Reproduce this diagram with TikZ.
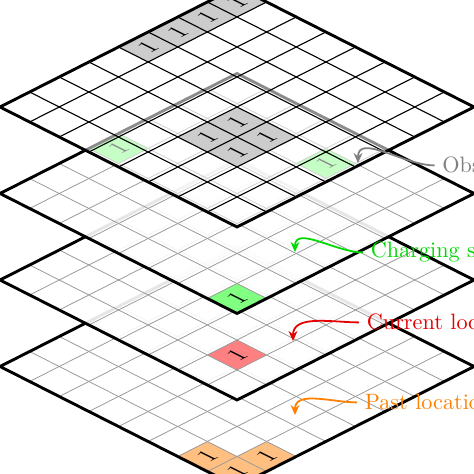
\documentclass[tikz,border=0pt]{standalone}
\usetikzlibrary{arrows.meta}
\begin{document}
\begin{tikzpicture}[x=0.45pt,y=0.45pt,
  onecell/.style={yslant=0.5,xslant=-1,inner sep=0pt},
  thingrid/.style={gray!80,line width=0.35pt},
  topgrid/.style={black,line width=0.5pt},
  border/.style={black,line width=1.3pt,line join=miter},
  layerframe/.style={shift={(237,#1)},x={(13.33125pt,6.75pt)},y={(-13.33125pt,6.75pt)}},
  lbl/.style={anchor=base west,font=\normalsize},
  pointer/.style={line width=0.8pt,-{Stealth[length=4.5pt,width=4pt]}}
]
\useasboundingbox (0,0) rectangle (474,474);
\clip (0,0) rectangle (474,474);
\fill[white] (0,0) rectangle (474,474);

% ---- layer 4: past locations
\begin{scope}[layerframe=-12.5]
  \fill[white,fill opacity=0.9] (0,0) -- (8,0) -- (8,8) -- (0,8) -- cycle;
  \foreach \a/\b/\n in {0/1/pa,1/0/pb,0/0/pc}{
    \fill[orange!50] (\a,\b) -- ++(1,0) -- ++(0,1) -- ++(-1,0) -- cycle;
    \node[onecell] (\n) at (\a+0.5,\b+0.5) {1};
  }
  \foreach \k in {1,...,7}{
    \draw[thingrid] (\k,0) -- (\k,8);
    \draw[thingrid] (0,\k) -- (8,\k);
  }
  \draw[border] (0,0) -- (8,0) -- (8,8) -- (0,8) -- cycle;
\end{scope}

% ---- layer 3: current location
\begin{scope}[layerframe=74]
  \fill[white,fill opacity=0.9] (0,0) -- (8,0) -- (8,8) -- (0,8) -- cycle;
  \fill[red!50] (1,1) -- (2,1) -- (2,2) -- (1,2) -- cycle;
  \node[onecell] (cur) at (1.5,1.5) {1};
  \foreach \k in {1,...,7}{
    \draw[thingrid] (\k,0) -- (\k,8);
    \draw[thingrid] (0,\k) -- (8,\k);
  }
  \draw[border] (0,0) -- (8,0) -- (8,8) -- (0,8) -- cycle;
\end{scope}

% ---- layer 2: charging stations
\begin{scope}[layerframe=160.5]
  \fill[white,fill opacity=0.9] (0,0) -- (8,0) -- (8,8) -- (0,8) -- cycle;
  \foreach \a/\b/\n in {3/7/ca,6/3/cb,0/0/cc}{
    \fill[green!50] (\a,\b) -- ++(1,0) -- ++(0,1) -- ++(-1,0) -- cycle;
    \node[onecell] (\n) at (\a+0.5,\b+0.5) {1};
  }
  \foreach \k in {1,...,7}{
    \draw[thingrid] (\k,0) -- (\k,8);
    \draw[thingrid] (0,\k) -- (8,\k);
  }
  \draw[border] (0,0) -- (8,0) -- (8,8) -- (0,8) -- cycle;
\end{scope}

% ---- layer 1: obstacles
\begin{scope}[layerframe=247]
  \fill[white,fill opacity=0.55] (0,0) -- (8,0) -- (8,8) -- (0,8) -- cycle;
  \foreach \a/\b/\n in {4/7/oa,5/7/ob,6/7/oc,7/7/od,2/2/oe,3/2/of,2/3/og,3/3/oh}{
    \fill[gray!40] (\a,\b) -- ++(1,0) -- ++(0,1) -- ++(-1,0) -- cycle;
    \node[onecell] (\n) at (\a+0.5,\b+0.5) {1};
  }
  \foreach \k in {1,...,7}{
    \draw[topgrid] (\k,0) -- (\k,8);
    \draw[topgrid] (0,\k) -- (8,\k);
  }
  \draw[border] (0,0) -- (8,0) -- (8,8) -- (0,8) -- cycle;
\end{scope}

% ---- labels and pointers
\node[lbl,text=gray] (obs) at (434.5,301) {Obstacles};
\coordinate (obsT) at (358,311);
\draw[pointer,gray] (obs.west) to[out=180,in=90] (obsT);

\node[lbl,text=green!85!black] (chg) at (363,216) {Charging stations};
\coordinate (chgT) at (295,222);
\draw[pointer,green!85!black] (chg.west) to[out=180,in=90] (chgT);

\node[lbl,text=red!90!black] (curl) at (359,144) {Current location};
\coordinate (curT) at (293,133);
\draw[pointer,red!90!black] (curl.west) to[out=180,in=90] (curT);

\node[lbl,text=orange] (past) at (357,64) {Past locations};
\coordinate (pastT) at (295,59);
\draw[pointer,orange] (past.west) to[out=180,in=90] (pastT);
\end{tikzpicture}
\end{document}
